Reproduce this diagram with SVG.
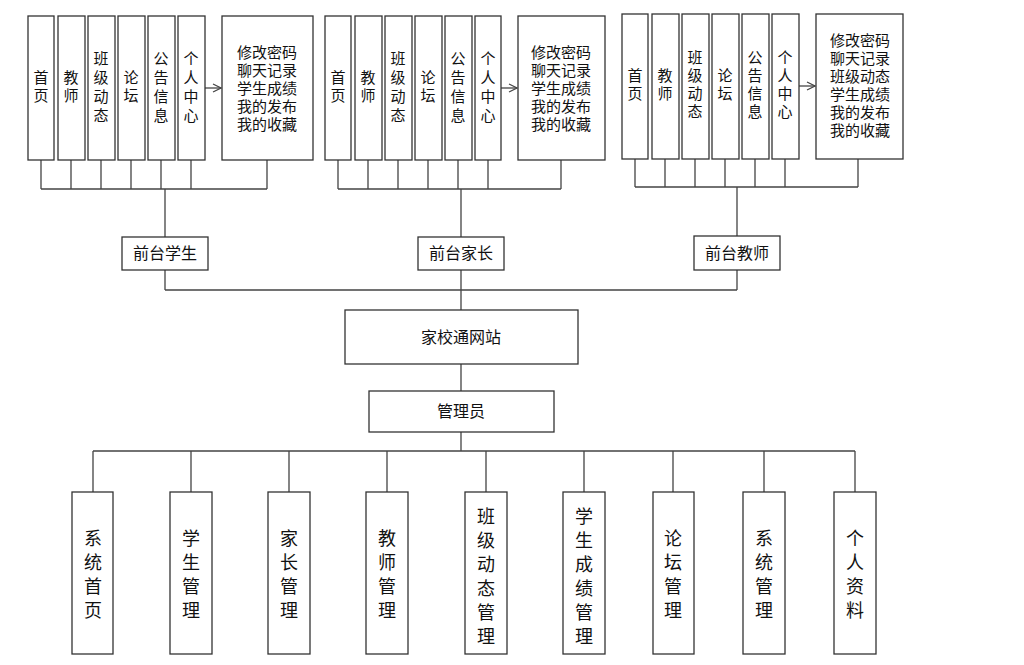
<svg xmlns="http://www.w3.org/2000/svg" width="1024" height="665" viewBox="0 0 1024 665">
<style>
rect{fill:#fff;stroke:#333;stroke-width:1.3}
.c line,.c polyline{stroke:#444;stroke-width:1.3;fill:none}
text{font-family:"Noto Sans CJK SC","Liberation Sans",sans-serif;fill:#111;text-anchor:middle}
.s{font-size:15px}
.m{font-size:16px}
.b{font-size:18px}
</style>
<defs><marker id="a" markerWidth="10" markerHeight="10" refX="9" refY="5" orient="auto" markerUnits="userSpaceOnUse"><path d="M1,1 L9,5 L1,9" fill="none" stroke="#444" stroke-width="1.2"/></marker></defs>
<g class="c">
<line x1="205" y1="88" x2="221" y2="88" marker-end="url(#a)"/>
<line x1="501" y1="88" x2="517" y2="88" marker-end="url(#a)"/>
<line x1="798" y1="86" x2="815" y2="86" marker-end="url(#a)"/>
<path d="M41 160V189M71 160V189M101 160V189M131 160V189M161 160V189M191 160V189M267 160V189M41 189H267M165 189V237" stroke="#444" stroke-width="1.3" fill="none"/>
<path d="M338 160V189M368 160V189M398 160V189M428 160V189M458 160V189M488 160V189M561 160V189M338 189H561M461 189V237" stroke="#444" stroke-width="1.3" fill="none"/>
<path d="M635 159V187M665 159V187M695 159V187M725 159V187M755 159V187M785 159V187M858 159V187M635 187H858M737 187V236" stroke="#444" stroke-width="1.3" fill="none"/>
<path d="M165 270V290M461 270V310M737 270V290M165 290H737M461 364V391M461 432V451M93 451H855M93 451V492M191 451V492M289 451V492M387 451V492M486 451V492M584 451V492M673 451V492M764 451V492M855 451V492" stroke="#444" stroke-width="1.3" fill="none"/>
</g>
<g id="student">
<rect x="28" y="16" width="26" height="144"/><text class="s" x="41" y="83">首</text><text class="s" x="41" y="101">页</text>
<rect x="58" y="16" width="27" height="144"/><text class="s" x="71" y="83">教</text><text class="s" x="71" y="101">师</text>
<rect x="88" y="16" width="27" height="144"/><text class="s" x="101" y="64">班</text><text class="s" x="101" y="83">级</text><text class="s" x="101" y="102">动</text><text class="s" x="101" y="121">态</text>
<rect x="118" y="16" width="27" height="144"/><text class="s" x="131" y="83">论</text><text class="s" x="131" y="101">坛</text>
<rect x="148" y="16" width="27" height="144"/><text class="s" x="161" y="64">公</text><text class="s" x="161" y="83">告</text><text class="s" x="161" y="102">信</text><text class="s" x="161" y="121">息</text>
<rect x="178" y="16" width="27" height="144"/><text class="s" x="191" y="64">个</text><text class="s" x="191" y="83">人</text><text class="s" x="191" y="102">中</text><text class="s" x="191" y="121">心</text>
<rect x="222" y="16" width="91" height="144"/>
<text class="s" x="267" y="58">修改密码</text><text class="s" x="267" y="76">聊天记录</text><text class="s" x="267" y="94">学生成绩</text><text class="s" x="267" y="112">我的发布</text><text class="s" x="267" y="130">我的收藏</text>
</g>
<g id="parent">
<rect x="325" y="16" width="26" height="144"/><text class="s" x="338" y="83">首</text><text class="s" x="338" y="101">页</text>
<rect x="355" y="16" width="27" height="144"/><text class="s" x="368" y="83">教</text><text class="s" x="368" y="101">师</text>
<rect x="385" y="16" width="27" height="144"/><text class="s" x="398" y="64">班</text><text class="s" x="398" y="83">级</text><text class="s" x="398" y="102">动</text><text class="s" x="398" y="121">态</text>
<rect x="415" y="16" width="27" height="144"/><text class="s" x="428" y="83">论</text><text class="s" x="428" y="101">坛</text>
<rect x="445" y="16" width="27" height="144"/><text class="s" x="458" y="64">公</text><text class="s" x="458" y="83">告</text><text class="s" x="458" y="102">信</text><text class="s" x="458" y="121">息</text>
<rect x="475" y="16" width="26" height="144"/><text class="s" x="488" y="64">个</text><text class="s" x="488" y="83">人</text><text class="s" x="488" y="102">中</text><text class="s" x="488" y="121">心</text>
<rect x="518" y="16" width="87" height="144"/>
<text class="s" x="561" y="58">修改密码</text><text class="s" x="561" y="76">聊天记录</text><text class="s" x="561" y="94">学生成绩</text><text class="s" x="561" y="112">我的发布</text><text class="s" x="561" y="130">我的收藏</text>
</g>
<g id="teacher">
<rect x="622" y="14" width="26" height="145"/><text class="s" x="635" y="81">首</text><text class="s" x="635" y="99">页</text>
<rect x="652" y="14" width="27" height="145"/><text class="s" x="665" y="81">教</text><text class="s" x="665" y="99">师</text>
<rect x="682" y="14" width="27" height="145"/><text class="s" x="695" y="63">班</text><text class="s" x="695" y="81">级</text><text class="s" x="695" y="99">动</text><text class="s" x="695" y="117">态</text>
<rect x="712" y="14" width="27" height="145"/><text class="s" x="725" y="81">论</text><text class="s" x="725" y="99">坛</text>
<rect x="742" y="14" width="27" height="145"/><text class="s" x="755" y="63">公</text><text class="s" x="755" y="81">告</text><text class="s" x="755" y="99">信</text><text class="s" x="755" y="117">息</text>
<rect x="772" y="14" width="27" height="145"/><text class="s" x="785" y="63">个</text><text class="s" x="785" y="81">人</text><text class="s" x="785" y="99">中</text><text class="s" x="785" y="117">心</text>
<rect x="816" y="14" width="87" height="145"/>
<text class="s" x="860" y="46">修改密码</text><text class="s" x="860" y="64">聊天记录</text><text class="s" x="860" y="82">班级动态</text><text class="s" x="860" y="100">学生成绩</text><text class="s" x="860" y="118">我的发布</text><text class="s" x="860" y="136">我的收藏</text>
</g>
<g id="front-student"><rect x="122" y="237" width="86" height="33"/><text class="m" x="165" y="259">前台学生</text></g>
<g id="front-parent"><rect x="418" y="237" width="86" height="33"/><text class="m" x="461" y="259">前台家长</text></g>
<g id="front-teacher"><rect x="694" y="236" width="86" height="34"/><text class="m" x="737" y="259">前台教师</text></g>
<g id="site"><rect x="345" y="310" width="233" height="54"/><text class="m" x="461" y="343">家校通网站</text></g>
<g id="admin"><rect x="369" y="391" width="185" height="41"/><text class="m" x="461" y="417">管理员</text></g>
<g id="m1"><rect x="72" y="492" width="41" height="162"/><text class="b" x="93" y="545">系</text><text class="b" x="93" y="569">统</text><text class="b" x="93" y="593">首</text><text class="b" x="93" y="617">页</text></g>
<g id="m2"><rect x="170" y="492" width="42" height="162"/><text class="b" x="191" y="545">学</text><text class="b" x="191" y="569">生</text><text class="b" x="191" y="593">管</text><text class="b" x="191" y="617">理</text></g>
<g id="m3"><rect x="268" y="492" width="42" height="162"/><text class="b" x="289" y="545">家</text><text class="b" x="289" y="569">长</text><text class="b" x="289" y="593">管</text><text class="b" x="289" y="617">理</text></g>
<g id="m4"><rect x="366" y="492" width="42" height="162"/><text class="b" x="387" y="545">教</text><text class="b" x="387" y="569">师</text><text class="b" x="387" y="593">管</text><text class="b" x="387" y="617">理</text></g>
<g id="m5"><rect x="465" y="492" width="42" height="162"/><text class="b" x="486" y="523">班</text><text class="b" x="486" y="547">级</text><text class="b" x="486" y="571">动</text><text class="b" x="486" y="595">态</text><text class="b" x="486" y="619">管</text><text class="b" x="486" y="643">理</text></g>
<g id="m6"><rect x="563" y="492" width="42" height="162"/><text class="b" x="584" y="523">学</text><text class="b" x="584" y="547">生</text><text class="b" x="584" y="571">成</text><text class="b" x="584" y="595">绩</text><text class="b" x="584" y="619">管</text><text class="b" x="584" y="643">理</text></g>
<g id="m7"><rect x="653" y="492" width="41" height="162"/><text class="b" x="673" y="545">论</text><text class="b" x="673" y="569">坛</text><text class="b" x="673" y="593">管</text><text class="b" x="673" y="617">理</text></g>
<g id="m8"><rect x="743" y="492" width="42" height="162"/><text class="b" x="764" y="545">系</text><text class="b" x="764" y="569">统</text><text class="b" x="764" y="593">管</text><text class="b" x="764" y="617">理</text></g>
<g id="m9"><rect x="834" y="492" width="42" height="162"/><text class="b" x="855" y="545">个</text><text class="b" x="855" y="569">人</text><text class="b" x="855" y="593">资</text><text class="b" x="855" y="617">料</text></g>
</svg>
